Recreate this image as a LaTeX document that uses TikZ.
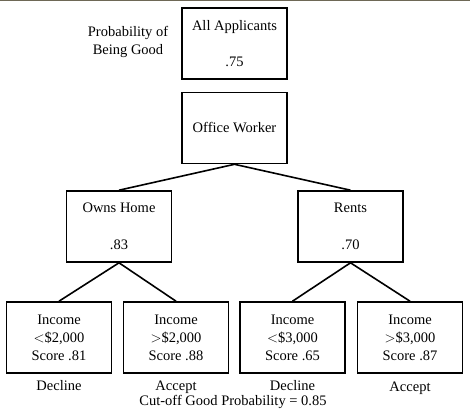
\documentclass[tikz,border=0pt]{standalone}
\usepackage{fontspec}
\setmainfont{Liberation Serif}
\usepackage{tikz}
\usepackage{xcolor}
\definecolor{edgegray}{RGB}{110,104,86}
\tikzset{
  box/.style={draw, line width=1.6pt, minimum width=105pt, minimum height=71pt, align=center, inner sep=0pt},
  tag/.style={align=center, inner sep=0pt},
  verdict/.style={anchor=base, inner sep=0pt, text depth=0pt}
}

\begin{document}
\begin{tikzpicture}[x=1pt,y=-1pt,font=\fontsize{14.5}{18}\selectfont]
\useasboundingbox (0,0) rectangle (470,419);
\draw [edgegray, line width=1.5pt] (0,0.5) -- (470,0.5);
\node [box] (all) at (234.5,43.5) {All Applicants\\[18pt].75};
\node [box] (office) at (234.5,128) {Office Worker};
\node [tag] (prob) at (128,42) {Probability of\\Being Good};
\node [box] (own) at (119,226.5) {Owns Home\\[19pt].83};
\node [box] (rent) at (350.5,226.5) {Rents\\[19pt].70};
\node [box] (lowA) at (59,337.5) {Income\\$<$\$2,000\\Score .81};
\node [box] (highA) at (176,337.5) {Income\\$>$\$2,000\\Score .88};
\node [box] (lowB) at (292.5,337.5) {Income\\$<$\$3,000\\Score .65};
\node [box] (highB) at (410,337.5) {Income\\$>$\$3,000\\Score .87};
\draw [line width=1.6pt] (own.north) -- (office.south) -- (rent.north);
\draw [line width=1.6pt] (lowA.north) -- (own.south) -- (highA.north);
\draw [line width=1.6pt] (lowB.north) -- (rent.south) -- (highB.north);
\node [verdict] (decA) at (59,390.5) {Decline};
\node [verdict] (accA) at (176,390.5) {Accept};
\node [verdict] (decB) at (292.5,390.5) {Decline};
\node [verdict] (accB) at (410,391.5) {Accept};
\node [anchor=base, inner sep=0pt] (cut) at (233,405) {Cut-off Good Probability = 0.85};
\end{tikzpicture}
\end{document}
